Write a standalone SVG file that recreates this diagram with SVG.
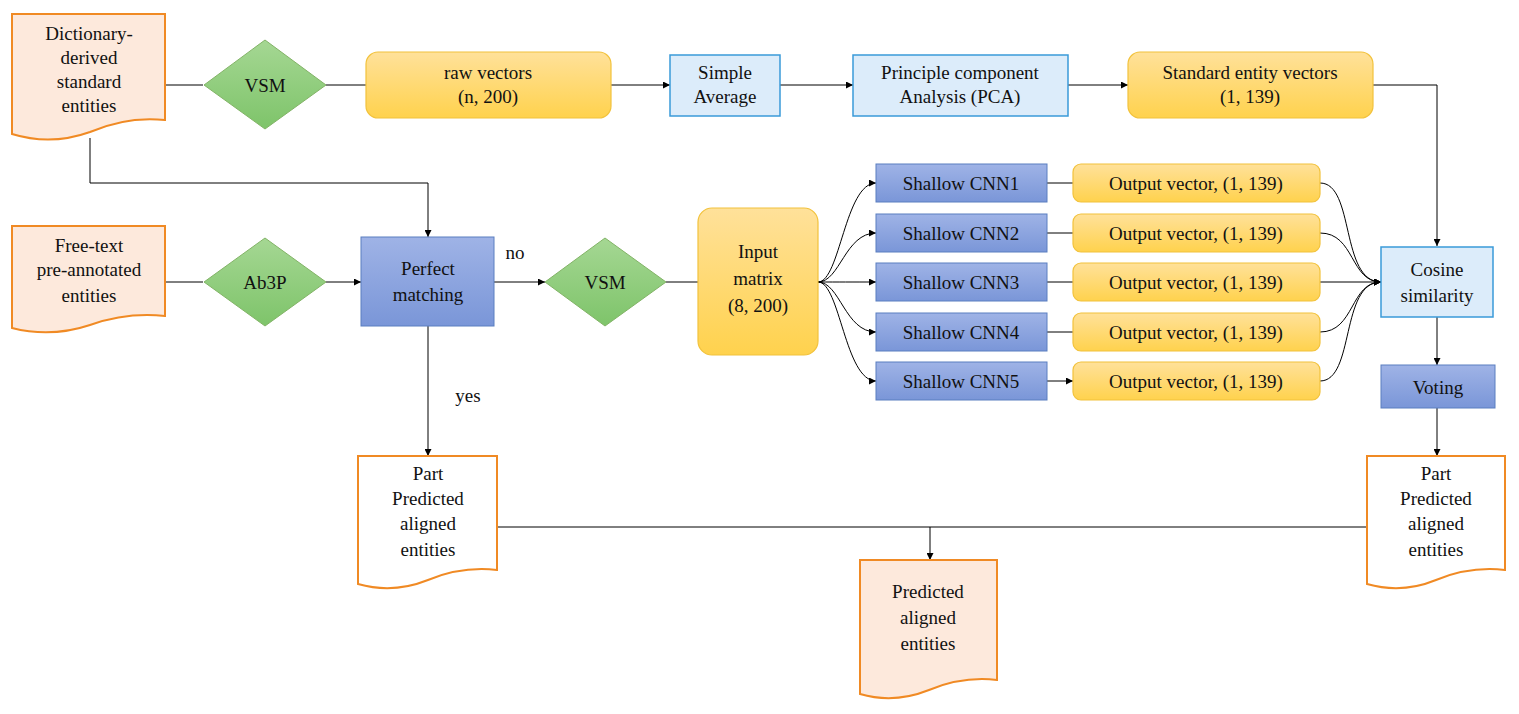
<svg xmlns="http://www.w3.org/2000/svg" width="1519" height="714" viewBox="0 0 1519 714">
<defs>
<linearGradient id="gy" x1="0" y1="0" x2="0" y2="1"><stop offset="0" stop-color="#ffe19a"/><stop offset="1" stop-color="#ffd24d"/></linearGradient>
<linearGradient id="gg" x1="0" y1="0" x2="0" y2="1"><stop offset="0" stop-color="#a5d793"/><stop offset="1" stop-color="#7ec46a"/></linearGradient>
<linearGradient id="gb" x1="0" y1="0" x2="0" y2="1"><stop offset="0" stop-color="#9fb3e6"/><stop offset="1" stop-color="#7a96d8"/></linearGradient>
<marker id="ar" viewBox="0 0 10 10" refX="10" refY="5" markerWidth="7" markerHeight="7" orient="auto" markerUnits="userSpaceOnUse"><path d="M0,0 L10,5 L0,10 Z" fill="#000"/></marker>
</defs>
<style>
text{font-family:"Liberation Serif","Times New Roman",serif;font-size:19px;fill:#111;text-anchor:middle}
.doc{fill:#fde9dc;stroke:#f08a24;stroke-width:2}
.dia{fill:url(#gg);stroke:#82b366;stroke-width:1}
.yel{fill:url(#gy);stroke:#f2c23c;stroke-width:1.2}
.blu{fill:url(#gb);stroke:#5a7ec0;stroke-width:1}
.lb{fill:#dcecfa;stroke:#3a9ad9;stroke-width:1.5}
.c{fill:none;stroke:#000;stroke-width:1}
.a{marker-end:url(#ar)}
</style>
<rect width="1519" height="714" fill="#fff"/>
<g id="connectors">
<path class="c" d="M165,85 H203 M326,85 H366"/>
<path class="c a" d="M611,85 H670"/>
<path class="c a" d="M780,85 H853"/>
<path class="c a" d="M1068,85 H1128"/>
<path class="c a" d="M1373,85 H1437 V246"/>
<path class="c a" d="M90,138 V183 H428 V237"/>
<path class="c" d="M165,282 H203"/>
<path class="c a" d="M326,282 H361"/>
<path class="c a" d="M494,282 H545"/>
<path class="c" d="M666,282 H698"/>
<path class="c a" d="M818,282 C840,282 845,183 876,183"/>
<path class="c a" d="M818,282 C840,282 845,233 876,233"/>
<path class="c a" d="M818,282 C840,282 850,282 876,282"/>
<path class="c a" d="M818,282 C840,282 845,332 876,332"/>
<path class="c a" d="M818,282 C840,282 845,381 876,381"/>
<path class="c a" d="M1047,183 H1073 M1047,233 H1073 M1047,282 H1073 M1047,332 H1073 M1047,381 H1073"/>
<path class="c a" d="M1320,183 C1355,183 1340,282 1381,282"/>
<path class="c a" d="M1320,233 C1355,233 1350,282 1381,282"/>
<path class="c a" d="M1320,282 H1381"/>
<path class="c a" d="M1320,332 C1355,332 1350,282 1381,282"/>
<path class="c a" d="M1320,381 C1355,381 1340,282 1381,282"/>
<path class="c a" d="M1437,317 V365"/>
<path class="c a" d="M1437,408 V456"/>
<path class="c a" d="M428,326 V456"/>
<path class="c" d="M497,527 H1367"/>
<path class="c a" d="M930,527 V560"/>
<text x="515" y="259">no</text>
<text x="468" y="402">yes</text>
</g>
<g id="dict"><path class="doc" d="M12,14 H165 V120 Q127,116 90,132 Q51,146 12,134 Z"/>
<text x="89" y="40">Dictionary-</text><text x="89" y="64">derived</text><text x="89" y="88">standard</text><text x="89" y="112">entities</text></g>
<g id="free"><path class="doc" d="M12,226 H165 V316 Q127,312 90,325 Q51,338 12,328 Z"/>
<text x="89" y="252">Free-text</text><text x="89" y="276">pre-annotated</text><text x="89" y="302">entities</text></g>
<g id="vsm1"><path class="dia" d="M265,40 L326,85 L265,129 L204,85 Z"/><text x="265" y="92">VSM</text></g>
<g id="ab3p"><path class="dia" d="M265,238 L326,282 L265,326 L204,282 Z"/><text x="265" y="289">Ab3P</text></g>
<g id="raw"><rect class="yel" x="366" y="52" width="245" height="66" rx="12"/><text x="488" y="79">raw vectors</text><text x="488" y="103">(n, 200)</text></g>
<g id="avg"><rect class="lb" x="670" y="55" width="110" height="61"/><text x="725" y="79">Simple</text><text x="725" y="103">Average</text></g>
<g id="pca"><rect class="lb" x="853" y="55" width="215" height="61"/><text x="960" y="79">Principle component</text><text x="960" y="103">Analysis (PCA)</text></g>
<g id="std"><rect class="yel" x="1128" y="52" width="245" height="66" rx="12"/><text x="1250" y="79">Standard entity vectors</text><text x="1250" y="103">(1, 139)</text></g>
<g id="perfect"><rect class="blu" x="361" y="237" width="133" height="89"/><text x="428" y="275">Perfect</text><text x="428" y="301">matching</text></g>
<g id="vsm2"><path class="dia" d="M605,238 L666,282 L605,326 L545,282 Z"/><text x="605" y="289">VSM</text></g>
<g id="input"><rect class="yel" x="698" y="208" width="120" height="147" rx="14"/><text x="758" y="258">Input</text><text x="758" y="285">matrix</text><text x="758" y="312">(8, 200)</text></g>
<g id="cnn1"><rect class="blu" x="876" y="164" width="171" height="38"/><text x="961" y="190">Shallow CNN1</text></g>
<g id="cnn2"><rect class="blu" x="876" y="214" width="171" height="38"/><text x="961" y="240">Shallow CNN2</text></g>
<g id="cnn3"><rect class="blu" x="876" y="263" width="171" height="38"/><text x="961" y="289">Shallow CNN3</text></g>
<g id="cnn4"><rect class="blu" x="876" y="313" width="171" height="38"/><text x="961" y="339">Shallow CNN4</text></g>
<g id="cnn5"><rect class="blu" x="876" y="362" width="171" height="38"/><text x="961" y="388">Shallow CNN5</text></g>
<g id="out1"><rect class="yel" x="1073" y="164" width="247" height="38" rx="8"/><text x="1196" y="190">Output vector, (1, 139)</text></g>
<g id="out2"><rect class="yel" x="1073" y="214" width="247" height="38" rx="8"/><text x="1196" y="240">Output vector, (1, 139)</text></g>
<g id="out3"><rect class="yel" x="1073" y="263" width="247" height="38" rx="8"/><text x="1196" y="289">Output vector, (1, 139)</text></g>
<g id="out4"><rect class="yel" x="1073" y="313" width="247" height="38" rx="8"/><text x="1196" y="339">Output vector, (1, 139)</text></g>
<g id="out5"><rect class="yel" x="1073" y="362" width="247" height="38" rx="8"/><text x="1196" y="388">Output vector, (1, 139)</text></g>
<g id="cosine"><rect class="lb" x="1381" y="247" width="112" height="70"/><text x="1437" y="276">Cosine</text><text x="1437" y="302">similarity</text></g>
<g id="voting"><rect class="blu" x="1381" y="365" width="114" height="43"/><text x="1438" y="394">Voting</text></g>
<g id="partL"><path d="M358,456 H497 V570 Q462,566 428,580 Q393,594 358,584 Z" fill="#fff" stroke="#f08a24" stroke-width="2"/>
<text x="428" y="480">Part</text><text x="428" y="505">Predicted</text><text x="428" y="530">aligned</text><text x="428" y="556">entities</text></g>
<g id="partR"><path d="M1367,456 H1505 V570 Q1470,566 1436,580 Q1402,594 1367,584 Z" fill="#fff" stroke="#f08a24" stroke-width="2"/>
<text x="1436" y="480">Part</text><text x="1436" y="505">Predicted</text><text x="1436" y="530">aligned</text><text x="1436" y="556">entities</text></g>
<g id="pred"><path class="doc" d="M860,560 H997 V680 Q963,676 929,690 Q894,704 860,694 Z"/>
<text x="928" y="598">Predicted</text><text x="928" y="624">aligned</text><text x="928" y="650">entities</text></g>
</svg>
